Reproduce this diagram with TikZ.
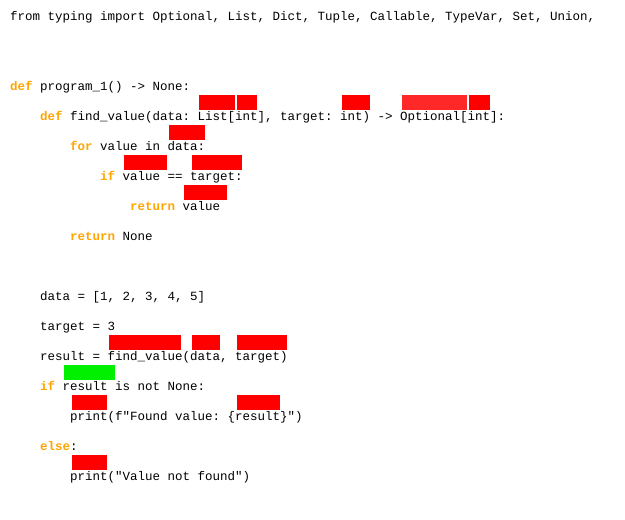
\documentclass[tikz,border=0pt]{standalone}
\usepackage{fontspec}
\setmonofont{Liberation Mono}
\definecolor{kw}{RGB}{255,165,0}
\definecolor{rd}{RGB}{255,0,0}
\definecolor{rd2}{RGB}{255,40,40}
\definecolor{gr}{RGB}{0,240,0}
\newcommand{\kw}[1]{\textcolor{kw}{\bfseries #1}}
\begin{document}
\begin{tikzpicture}[x=1pt,y=-1pt,
  code/.style={anchor=base west,inner sep=0pt,font=\fontsize{12.5}{14}\ttfamily},
  redbox/.style={fill=rd,draw=none},
  redboxb/.style={fill=rd2,draw=none},
  greenbox/.style={fill=gr,draw=none}]
\useasboundingbox[fill=white] (0,0) rectangle (625,520);
\node[code] (l0) at (10,20.5) {from typing import Optional, List, Dict, Tuple, Callable, TypeVar, Set, Union,};
\node[code] (l1) at (10,90.5) {\kw{def} program\_1() -> None:};
\node[code] (l2) at (40,120.5) {\kw{def} find\_value(data: List[int], target: int) -> Optional[int]:};
\node[code] (l3) at (70,150.5) {\kw{for} value in data:};
\node[code] (l4) at (100,180.5) {\kw{if} value == target:};
\node[code] (l5) at (130,210.5) {\kw{return} value};
\node[code] (l6) at (70,240.5) {\kw{return} None};
\node[code] (l7) at (40,300.5) {data = [1, 2, 3, 4, 5]};
\node[code] (l8) at (40,330.5) {target = 3};
\node[code] (l9) at (40,360.5) {result = find\_value(data, target)};
\node[code] (l10) at (40,390.5) {\kw{if} result is not None:};
\node[code] (l11) at (70,420.5) {print(f"Found value: \{result\}")};
\node[code] (l12) at (40,450.5) {\kw{else}:};
\node[code] (l13) at (70,480.5) {print("Value not found")};
% overlays
\fill[redbox] (199,95) rectangle (235,110);
\fill[redbox] (237,95) rectangle (257,110);
\fill[redbox] (342,95) rectangle (370,110);
\fill[redboxb] (402,95) rectangle (467,110);
\fill[redbox] (469,95) rectangle (490,110);
\fill[redbox] (169,125) rectangle (205,140);
\fill[redbox] (124,155) rectangle (167,170);
\fill[redbox] (192,155) rectangle (242,170);
\fill[redbox] (184,185) rectangle (227,200);
\fill[redbox] (109,335) rectangle (181,350);
\fill[redbox] (192,335) rectangle (220,350);
\fill[redbox] (237,335) rectangle (287,350);
\fill[greenbox] (64,365) rectangle (115,380);
\fill[redbox] (72,395) rectangle (107,410);
\fill[redbox] (237,395) rectangle (280,410);
\fill[redbox] (72,455) rectangle (107,470);
\end{tikzpicture}
\end{document}
